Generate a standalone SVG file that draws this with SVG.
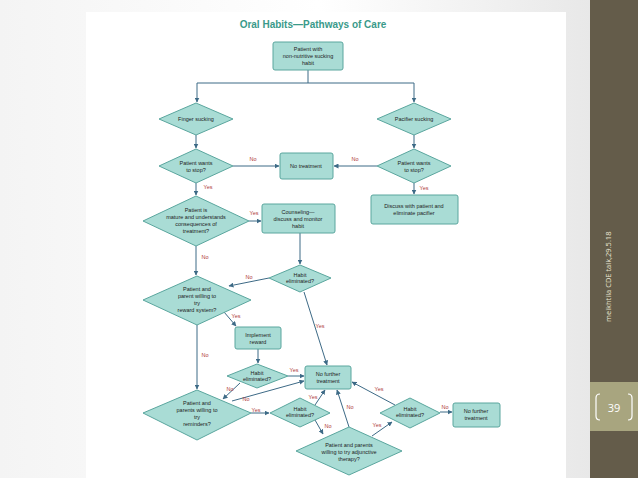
<svg xmlns="http://www.w3.org/2000/svg" width="638" height="478" viewBox="0 0 638 478">
<defs>
<linearGradient id="bg" x1="0" x2="1"><stop offset="0" stop-color="#f4f4f4"/><stop offset="0.5" stop-color="#ffffff"/><stop offset="1" stop-color="#e4e4e4"/></linearGradient>
<marker id="a" viewBox="0 0 10 10" refX="9" refY="5" markerWidth="5" markerHeight="5" orient="auto"><path d="M0,0L10,5L0,10z" fill="#3d6a86"/></marker>
</defs>
<style>
.n{fill:#a9dcd5;stroke:#5aa69e;stroke-width:1}
.t{font-family:"Liberation Sans",Arial,sans-serif;font-size:5.5px;fill:#222;text-anchor:middle}
.l{font-family:"Liberation Sans",Arial,sans-serif;font-size:5.5px;fill:#b03a3a;text-anchor:middle}
#edges path{fill:none;stroke:#3d6a86;stroke-width:1;marker-end:url(#a)}
</style>
<rect width="638" height="478" fill="url(#bg)"/>
<rect x="86" y="12" width="480" height="466" fill="#fff"/>
<rect x="590" y="0" width="48" height="478" fill="#645c4a"/>
<rect x="590" y="382" width="48" height="49" fill="#a8a57f"/>
<path d="M600,394Q596,394 596,398V416Q596,420 600,420M628,394Q632,394 632,398V416Q632,420 628,420" fill="none" stroke="#fff" stroke-width="1.2"/>
<text x="614" y="412" font-family="'Open Sans',sans-serif" font-size="11" fill="#fff" text-anchor="middle">39</text>
<text transform="translate(611,322) rotate(-90)" font-family="'Open Sans',sans-serif" font-size="7.5" fill="#e8e4d0">meikhtila CDE talk,29.5.18</text>
<text x="313" y="28" font-family="'Liberation Sans',Arial,sans-serif" font-size="10" font-weight="bold" fill="#3a9a8a" text-anchor="middle">Oral Habits—Pathways of Care</text>
<g id="edges">
<path d="M308,70V83H197V102" /><path d="M308,83H414V102"/>
<path d="M196,135V148"/><path d="M414,135V148"/>
<path d="M233,166H279"/><path d="M377,166H334"/>
<path d="M414,183V194"/><path d="M196,183V195"/>
<path d="M249,221H261"/><path d="M300,233V264"/>
<path d="M196,246V275"/><path d="M269,278L229,286"/>
<path d="M304,292L327,365"/><path d="M224,312L236,326"/>
<path d="M258,349V363"/><path d="M288,376H304"/>
<path d="M240,383L223,399"/><path d="M197,325V389"/>
<path d="M232,401L304,381"/><path d="M251,413H269"/>
<path d="M315,405L325,390"/><path d="M315,420L323,434"/>
<path d="M349,427L337,390"/><path d="M372,436L392,422"/>
<path d="M395,405L352,382"/><path d="M440,412H452"/>
</g>
<g id="title-box"><rect class="n" x="273" y="42" width="70" height="28" rx="2"/><text class="t" x="308" y="51">Patient with</text><text class="t" x="308" y="58">non-nutritive sucking</text><text class="t" x="308" y="65">habit</text></g>
<g id="finger"><polygon class="n" points="159,119 196,103 233,119 196,135"/><text class="t" x="196" y="121">Finger sucking</text></g>
<g id="pacifier"><polygon class="n" points="377,119 414,103 451,119 414,135"/><text class="t" x="414" y="121">Pacifier sucking</text></g>
<g id="wants-l"><polygon class="n" points="159,166 196,149 233,166 196,183"/><text class="t" x="196" y="165">Patient wants</text><text class="t" x="196" y="172">to stop?</text></g>
<g id="wants-r"><polygon class="n" points="377,166 414,149 451,166 414,183"/><text class="t" x="414" y="165">Patient wants</text><text class="t" x="414" y="172">to stop?</text></g>
<g id="no-treatment"><rect class="n" x="280" y="153" width="53" height="26" rx="2"/><text class="t" x="306" y="168">No treatment</text></g>
<g id="discuss"><rect class="n" x="371" y="195" width="87" height="29" rx="2"/><text class="t" x="414" y="208">Discuss with patient and</text><text class="t" x="414" y="215">eliminate pacifier</text></g>
<g id="mature"><polygon class="n" points="143,221 196,196 249,221 196,246"/><text class="t" x="196" y="212">Patient is</text><text class="t" x="196" y="219">mature and understands</text><text class="t" x="196" y="226">consequences of</text><text class="t" x="196" y="233">treatment?</text></g>
<g id="counseling"><rect class="n" x="262" y="204" width="73" height="29" rx="2"/><text class="t" x="298" y="214">Counseling—</text><text class="t" x="298" y="221">discuss and monitor</text><text class="t" x="298" y="228">habit</text></g>
<g id="habit1"><polygon class="n" points="269,278 300,265 331,278 300,292"/><text class="t" x="300" y="277">Habit</text><text class="t" x="300" y="283">eliminated?</text></g>
<g id="reward"><polygon class="n" points="143,300 197,276 251,300 197,325"/><text class="t" x="197" y="291">Patient and</text><text class="t" x="197" y="298">parent willing to</text><text class="t" x="197" y="305">try</text><text class="t" x="197" y="312">reward system?</text></g>
<g id="implement"><rect class="n" x="235" y="327" width="46" height="22" rx="2"/><text class="t" x="258" y="337">Implement</text><text class="t" x="258" y="344">reward</text></g>
<g id="habit2"><polygon class="n" points="227,376 257,364 288,376 257,388"/><text class="t" x="257" y="375">Habit</text><text class="t" x="257" y="381">eliminated?</text></g>
<g id="nft"><rect class="n" x="305" y="366" width="46" height="23" rx="2"/><text class="t" x="328" y="376">No further</text><text class="t" x="328" y="383">treatment</text></g>
<g id="reminders"><polygon class="n" points="143,413 197,390 251,413 197,440"/><text class="t" x="197" y="405">Patient and</text><text class="t" x="197" y="412">parents willing to</text><text class="t" x="197" y="419">try</text><text class="t" x="197" y="426">reminders?</text></g>
<g id="habit3"><polygon class="n" points="270,413 300,398 330,413 300,427"/><text class="t" x="300" y="411">Habit</text><text class="t" x="300" y="417">eliminated?</text></g>
<g id="habit4"><polygon class="n" points="380,413 410,398 440,413 410,428"/><text class="t" x="410" y="411">Habit</text><text class="t" x="410" y="417">eliminated?</text></g>
<g id="nft2"><rect class="n" x="453" y="403" width="47" height="24" rx="2"/><text class="t" x="476" y="413">No further</text><text class="t" x="476" y="420">treatment</text></g>
<g id="adjunctive"><polygon class="n" points="296,451 349,427 402,451 349,475"/><text class="t" x="349" y="447">Patient and parents</text><text class="t" x="349" y="454">willing to try adjunctive</text><text class="t" x="349" y="461">therapy?</text></g>
<g id="labels">
<text class="l" x="253" y="161">No</text><text class="l" x="355" y="161">No</text>
<text class="l" x="208" y="189">Yes</text><text class="l" x="424" y="190">Yes</text>
<text class="l" x="254" y="215">Yes</text><text class="l" x="205" y="259">No</text>
<text class="l" x="249" y="279">No</text><text class="l" x="236" y="318">Yes</text>
<text class="l" x="320" y="328">Yes</text><text class="l" x="205" y="357">No</text>
<text class="l" x="294" y="372">Yes</text><text class="l" x="230" y="391">No</text>
<text class="l" x="246" y="401">No</text><text class="l" x="256" y="412">Yes</text>
<text class="l" x="313" y="399">Yes</text><text class="l" x="328" y="428">No</text>
<text class="l" x="350" y="409">No</text><text class="l" x="379" y="391">Yes</text>
<text class="l" x="445" y="409">No</text><text class="l" x="377" y="427">Yes</text>
</g>
</svg>
